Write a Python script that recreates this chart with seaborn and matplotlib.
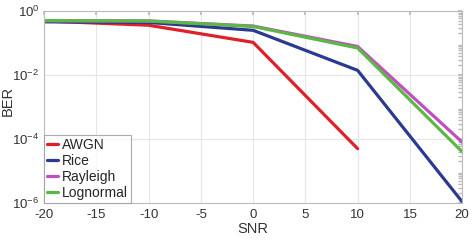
import numpy as np
import pandas as pd
import matplotlib
matplotlib.use("Agg")
import matplotlib.pyplot as plt
import seaborn as sns

snr = [-20, -10, 0, 10, 20]
awgn = [0.49, 0.36, 0.105, 5e-5, np.nan]
rice = [0.46, 0.44, 0.25, 0.014, 1.1e-6]
rayleigh = [0.5, 0.49, 0.34, 0.078, 8e-5]
lognormal = [0.5, 0.49, 0.33, 0.07, 4e-5]
names = ["AWGN", "Rice", "Rayleigh", "Lognormal"]
colors = ["#e02028", "#2b3a8f", "#c050c0", "#5cb845"]

rows = []
for n, vals in zip(names, [awgn, rice, rayleigh, lognormal]):
    for s, v in zip(snr, vals):
        if not np.isnan(v):
            rows.append({"SNR": s, "BER": v, "Channel": n})
df = pd.DataFrame(rows)

sns.set_theme(style="white")
plt.rcParams['font.family'] = ['Liberation Sans', 'DejaVu Sans']
plt.rcParams['axes.unicode_minus'] = False

fig = plt.figure(figsize=(4.74, 2.4), dpi=100)
ax = fig.add_axes([0.093, 0.154, 0.882, 0.800])
sns.lineplot(data=df, x="SNR", y="BER", hue="Channel", hue_order=names,
             palette=colors, linewidth=2.3, ax=ax)
ax.set_yscale("log")
ax.set_xlim(-20, 20)
ax.set_ylim(1e-6, 1)
ax.set_xticks(range(-20, 21, 5))
ax.set_yticks([1e-6, 1e-4, 1e-2, 1])
ax.grid(True, which="major", color="#e6e6e6", linewidth=0.8)
ax.tick_params(axis="both", which="both", direction="in", top=True, right=True,
               labelsize=9.5, colors="#bbbbbb", length=3)
ax.tick_params(axis="both", labelcolor="#333333")
ax.tick_params(axis="x", pad=4)
for sp in ax.spines.values():
    sp.set_color("#bbbbbb")
    sp.set_linewidth(0.8)
ax.set_xlabel("SNR", fontsize=10.5, color="#333333", labelpad=1)
ax.set_ylabel("BER", fontsize=10.5, color="#333333")
ax.yaxis.set_label_coords(-0.07, 0.53)
leg = ax.legend(loc="lower left", fontsize=10, handlelength=0.8, handletextpad=0.3,
                borderpad=0.2, labelspacing=0.15, borderaxespad=0.0,
                frameon=True, fancybox=False, edgecolor="#999999")
leg.get_frame().set_linewidth(0.8)
fig.savefig("out.png", dpi=100)
